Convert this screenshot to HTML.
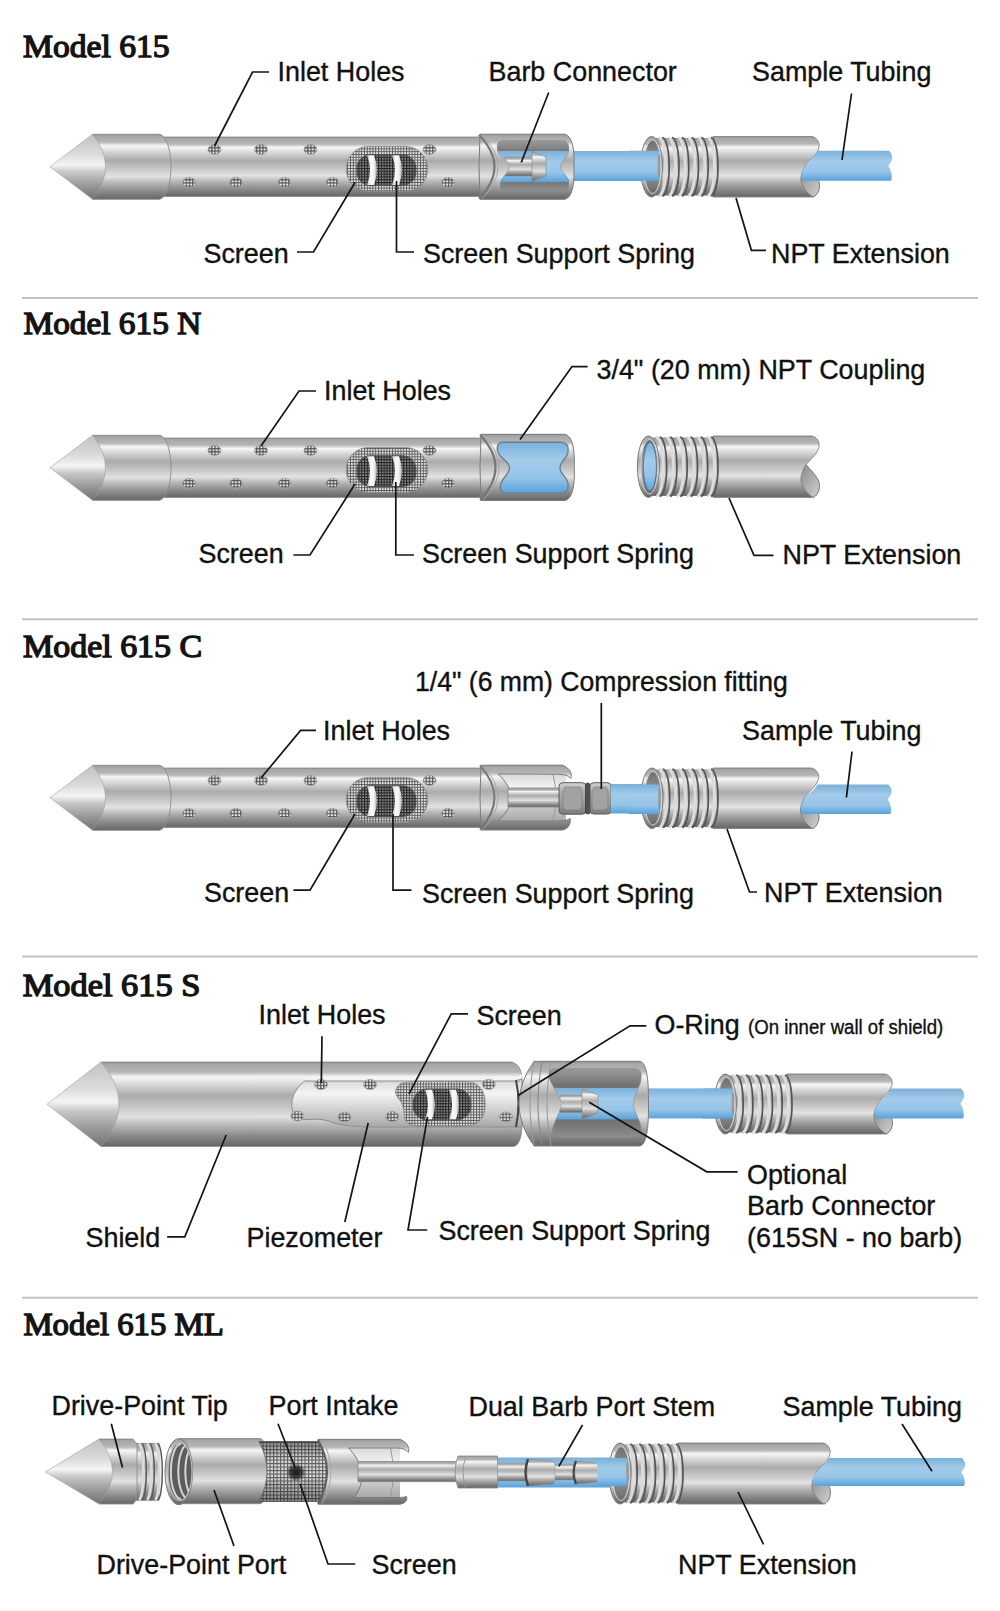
<!DOCTYPE html><html><head><meta charset="utf-8"><style>html,body{margin:0;padding:0;background:#fff;}svg{display:block;}</style></head><body>
<svg width="1000" height="1611" viewBox="0 0 1000 1611">

<defs>
 <linearGradient id="gm" x1="0" y1="0" x2="0" y2="1">
  <stop offset="0" stop-color="#8a8a8a"/>
  <stop offset="0.025" stop-color="#a6a6a6"/>
  <stop offset="0.12" stop-color="#b6b6b6"/>
  <stop offset="0.175" stop-color="#f6f6f6"/>
  <stop offset="0.28" stop-color="#d2d2d2"/>
  <stop offset="0.40" stop-color="#ababab"/>
  <stop offset="0.55" stop-color="#cacaca"/>
  <stop offset="0.65" stop-color="#e2e2e2"/>
  <stop offset="0.74" stop-color="#bababa"/>
  <stop offset="0.86" stop-color="#8f8f8f"/>
  <stop offset="0.97" stop-color="#6e6e6e"/>
  <stop offset="1" stop-color="#686868"/>
 </linearGradient>
 <linearGradient id="gcone" x1="0" y1="0" x2="0" y2="1">
  <stop offset="0" stop-color="#c2c2c2"/>
  <stop offset="0.3" stop-color="#dadada"/>
  <stop offset="0.47" stop-color="#f4f4f4"/>
  <stop offset="0.58" stop-color="#c8c8c8"/>
  <stop offset="0.8" stop-color="#969696"/>
  <stop offset="1" stop-color="#727272"/>
 </linearGradient>
 <linearGradient id="gblue" x1="0" y1="0" x2="0" y2="1">
  <stop offset="0" stop-color="#7ab0da"/>
  <stop offset="0.35" stop-color="#a3cbea"/>
  <stop offset="0.7" stop-color="#95c4e8"/>
  <stop offset="1" stop-color="#5aa2da"/>
 </linearGradient>
 <linearGradient id="gdark" x1="0" y1="0" x2="0" y2="1">
  <stop offset="0" stop-color="#6e6e6e"/>
  <stop offset="0.5" stop-color="#a0a0a0"/>
  <stop offset="1" stop-color="#6a6a6a"/>
 </linearGradient>
 <linearGradient id="gwin" x1="0" y1="0" x2="0" y2="1">
  <stop offset="0" stop-color="#9a9a9a"/>
  <stop offset="0.25" stop-color="#707070"/>
  <stop offset="0.5" stop-color="#a8a8a8"/>
  <stop offset="0.75" stop-color="#707070"/>
  <stop offset="1" stop-color="#8e8e8e"/>
 </linearGradient>
 <linearGradient id="gin" x1="0" y1="0" x2="0" y2="1">
  <stop offset="0" stop-color="#d8d8d8"/>
  <stop offset="0.3" stop-color="#f4f4f4"/>
  <stop offset="0.7" stop-color="#c9c9c9"/>
  <stop offset="1" stop-color="#a8a8a8"/>
 </linearGradient>
 <linearGradient id="gcres" x1="0" y1="0" x2="1" y2="1">
  <stop offset="0" stop-color="#8a8a8a"/>
  <stop offset="0.6" stop-color="#b4b4b4"/>
  <stop offset="1" stop-color="#d0d0d0"/>
 </linearGradient>
 <pattern id="meshml" width="3.5" height="3.5" patternUnits="userSpaceOnUse">
  <rect width="3.5" height="3.5" fill="#e8e8e8"/>
  <path d="M0 0.55H3.5M0.55 0V3.5" stroke="#626262" stroke-width="1.1"/>
 </pattern>
 <linearGradient id="gshade" x1="0" y1="0" x2="0" y2="1">
  <stop offset="0" stop-color="#000" stop-opacity="0.35"/>
  <stop offset="0.3" stop-color="#000" stop-opacity="0.05"/>
  <stop offset="0.6" stop-color="#000" stop-opacity="0.05"/>
  <stop offset="1" stop-color="#000" stop-opacity="0.4"/>
 </linearGradient>
 <linearGradient id="ghex" x1="0" y1="0" x2="0" y2="1">
  <stop offset="0" stop-color="#d4d4d4"/>
  <stop offset="0.3" stop-color="#acacac"/>
  <stop offset="0.7" stop-color="#969696"/>
  <stop offset="1" stop-color="#7a7a7a"/>
 </linearGradient>
 <linearGradient id="gband" x1="0" y1="0" x2="1" y2="0">
  <stop offset="0" stop-color="#bdbdbd"/>
  <stop offset="0.35" stop-color="#f8f8f8"/>
  <stop offset="0.7" stop-color="#f2f2f2"/>
  <stop offset="1" stop-color="#a8a8a8"/>
 </linearGradient>
 <radialGradient id="gspot">
  <stop offset="0" stop-color="#111" stop-opacity="0.95"/>
  <stop offset="0.6" stop-color="#222" stop-opacity="0.8"/>
  <stop offset="1" stop-color="#333" stop-opacity="0"/>
 </radialGradient>
 <pattern id="mesh" width="2.8" height="2.8" patternUnits="userSpaceOnUse">
  <rect width="2.8" height="2.8" fill="#e2e2e2"/>
  <path d="M0 0.45H2.8M0.45 0V2.8" stroke="#555" stroke-width="0.9"/>
 </pattern>
 <pattern id="meshd" width="2.8" height="2.8" patternUnits="userSpaceOnUse">
  <rect width="2.8" height="2.8" fill="#9a9a9a"/>
  <path d="M0 0.6H2.8M0.6 0V2.8" stroke="#262626" stroke-width="1.2"/>
 </pattern>
 <pattern id="meshh" width="3.2" height="3.2" patternUnits="userSpaceOnUse">
  <rect width="3.2" height="3.2" fill="#e6e6e6"/>
  <path d="M0 0.6H3.2M0.6 0V3.2" stroke="#585858" stroke-width="1.2"/>
 </pattern>
</defs>

<defs><clipPath id="w1"><path d="M502.5,141 L561.5,141 Q569.5,141 568.5,150 C568.5,157 560.5,159.25 560.5,166.25 C560.5,173.25 568.5,175.5 568.5,182.5 Q569.5,191.5 561.5,191.5 L506.5,191.5 Q499.5,191.5 500.5,183.5 C501.5,176.5 509.5,173.25 509.5,166.25 C509.5,159.25 497.5,156 497.5,149 Q496.5,141 502.5,141 Z"/></clipPath><clipPath id="w4"><path d="M554.6,1069 L634,1069 Q642,1069 641,1078 C641,1085 633,1096.3 633,1103.3 C633,1110.3 641,1121.6 641,1128.6 Q642,1137.6 634,1137.6 L558.6,1137.6 Q551.6,1137.6 552.6,1129.6 C553.6,1122.6 561.6,1110.3 561.6,1103.3 C561.6,1096.3 549.6,1084 549.6,1077 Q548.6,1069 554.6,1069 Z"/></clipPath><clipPath id="pm"><path d="M168,1471.7 A12,28.8 0 0 1 192,1471.7 A12,28.8 0 0 1 168,1471.7 Z"/></clipPath></defs>
<rect width="1000" height="1611" fill="#fff"/>
<text transform="translate(23,57) scale(1.019,0.94)" font-family='"Liberation Serif", serif' font-size="33" fill="#141414" stroke="#141414" stroke-width="1.4">Model 615</text>
<text transform="translate(277.5,81.3) scale(1,1.06)" font-family='"Liberation Sans", sans-serif' font-size="26.9" fill="#111" stroke="#111" stroke-width="0.35">Inlet Holes</text>
<text transform="translate(488.5,81.3) scale(1,1.06)" font-family='"Liberation Sans", sans-serif' font-size="26.9" fill="#111" stroke="#111" stroke-width="0.35">Barb Connector</text>
<text transform="translate(752,81.3) scale(1,1.06)" font-family='"Liberation Sans", sans-serif' font-size="26.9" fill="#111" stroke="#111" stroke-width="0.35">Sample Tubing</text>
<rect x="160" y="137" width="326" height="59.5" rx="0" fill="url(#gm)" stroke="#8a8a8a" stroke-width="0.8"/>
<path d="M92.5,134.3 L159,134.3 A12,32.5 0 0 1 159,199.3 L92.5,199.3 Z" fill="url(#gm)" stroke="#8c8c8c" stroke-width="0.9"/>
<path d="M50,166.8 L92.5,134.3 Q118.5,166.8 92.5,199.3 Z" fill="url(#gcone)" stroke="#a0a0a0" stroke-width="0.6"/>
<ellipse cx="214.5" cy="149.5" rx="6.5" ry="5" fill="url(#meshh)" stroke="#a0a0a0" stroke-width="0.8"/>
<ellipse cx="261" cy="149.5" rx="6.5" ry="5" fill="url(#meshh)" stroke="#a0a0a0" stroke-width="0.8"/>
<ellipse cx="310.5" cy="149.5" rx="6.5" ry="5" fill="url(#meshh)" stroke="#a0a0a0" stroke-width="0.8"/>
<ellipse cx="429.5" cy="149.5" rx="6.5" ry="5" fill="url(#meshh)" stroke="#a0a0a0" stroke-width="0.8"/>
<ellipse cx="189" cy="182.5" rx="6.5" ry="5" fill="url(#meshh)" stroke="#a0a0a0" stroke-width="0.8"/>
<ellipse cx="236" cy="182.5" rx="6.5" ry="5" fill="url(#meshh)" stroke="#a0a0a0" stroke-width="0.8"/>
<ellipse cx="284.5" cy="182.5" rx="6.5" ry="5" fill="url(#meshh)" stroke="#a0a0a0" stroke-width="0.8"/>
<ellipse cx="332.5" cy="182.5" rx="6.5" ry="5" fill="url(#meshh)" stroke="#a0a0a0" stroke-width="0.8"/>
<ellipse cx="448" cy="182.5" rx="6.5" ry="5" fill="url(#meshh)" stroke="#a0a0a0" stroke-width="0.8"/>
<rect x="346.2" y="146.4" width="81.60000000000002" height="45.0" rx="22.5" fill="url(#mesh)" stroke="#888" stroke-width="0.8"/>
<rect x="357" y="154.8" width="58.80000000000001" height="30.599999999999994" rx="13.769999999999998" fill="url(#meshd)" stroke="#505050" stroke-width="1.2"/>
<path d="M367,155.3 Q373,170.10000000000002 367,184.9 L374,184.9 Q380,170.10000000000002 374,155.3 Z" fill="url(#gband)"/>
<path d="M392,155.3 Q398,170.10000000000002 392,184.9 L399,184.9 Q405,170.10000000000002 399,155.3 Z" fill="url(#gband)"/>
<rect x="560" y="151" width="90" height="30" fill="url(#gblue)"/>
<path d="M480,134.2 L565,134.2 Q575,137.2 574,166.75 Q575,196.3 565,199.3 L480,199.3 Q478,166.75 480,134.2 Z" fill="url(#gm)" stroke="#7c7c7c" stroke-width="1"/>
<path d="M479,134.7 Q510,166.75 479,198.8" fill="none" stroke="#777" stroke-width="2"/>
<path d="M482,134.7 Q514,166.75 482,198.8" fill="none" stroke="#a8a8a8" stroke-width="1"/>
<path d="M502.5,141 L561.5,141 Q569.5,141 568.5,150 C568.5,157 560.5,159.25 560.5,166.25 C560.5,173.25 568.5,175.5 568.5,182.5 Q569.5,191.5 561.5,191.5 L506.5,191.5 Q499.5,191.5 500.5,183.5 C501.5,176.5 509.5,173.25 509.5,166.25 C509.5,159.25 497.5,156 497.5,149 Q496.5,141 502.5,141 Z" fill="url(#gwin)" stroke="#888" stroke-width="1"/>
<g clip-path="url(#w1)"><rect x="490" y="151" width="90" height="31" fill="url(#gblue)"/><rect x="505" y="157" width="28" height="19" fill="url(#gm)" stroke="#888" stroke-width="0.6"/><path d="M532,151.5 L546,157 L546,176 L532,181.5 Z" fill="url(#gm)" stroke="#888" stroke-width="0.6"/></g>
<path d="M713,136.5 L812,136.5 C817,137.50833333333333 820,142.55 819,146.98666666666668 C818,153.64166666666665 811,158.68333333333334 806,164.73333333333335 C813,172.8 820,178.85 819.4,186.51333333333332 C819,191.95833333333331 816,195.99166666666667 813,197 L713,197 Z" fill="url(#gm)" stroke="#858585" stroke-width="0.9"/>
<path d="M806,164.73333333333335 C813,172.8 820,178.85 819.4,186.51333333333332 C819,191.95833333333331 816,195.99166666666667 813,197 C805,191.95833333333331 800,183.89166666666665 801,176.83333333333331 C802,171.79166666666666 804,167.75833333333333 806,164.73333333333335 Z" fill="url(#gcres)" stroke="#7a7a7a" stroke-width="0.8"/>
<path d="M818,150.8 L889,150.8 Q895,156.8 890,163.8 Q887,165.8 890,168.8 Q893,176.8 891,180.8 L802,180.8 Q800,172.8 806,164.73333333333335 Q815,156.8 818,150.8 Z" fill="url(#gblue)"/>
<rect x="651.5" y="138.0" width="61.5" height="57.5" fill="url(#gm)"/>
<path d="M658.8,138.0 A7,28.75 0 0 1 658.8,195.5" fill="none" stroke="#dcdcdc" stroke-width="3"/>
<path d="M662.2,137.5 A7,29.25 0 0 1 662.2,196" fill="none" stroke="#545454" stroke-width="1.7"/>
<path d="M668.5,138.0 A7,28.75 0 0 1 668.5,195.5" fill="none" stroke="#dcdcdc" stroke-width="3"/>
<path d="M672.0,137.5 A7,29.25 0 0 1 672.0,196" fill="none" stroke="#545454" stroke-width="1.7"/>
<path d="M678.2,138.0 A7,28.75 0 0 1 678.2,195.5" fill="none" stroke="#dcdcdc" stroke-width="3"/>
<path d="M681.8,137.5 A7,29.25 0 0 1 681.8,196" fill="none" stroke="#545454" stroke-width="1.7"/>
<path d="M688.0,138.0 A7,28.75 0 0 1 688.0,195.5" fill="none" stroke="#dcdcdc" stroke-width="3"/>
<path d="M691.5,137.5 A7,29.25 0 0 1 691.5,196" fill="none" stroke="#545454" stroke-width="1.7"/>
<path d="M697.8,138.0 A7,28.75 0 0 1 697.8,195.5" fill="none" stroke="#dcdcdc" stroke-width="3"/>
<path d="M701.2,137.5 A7,29.25 0 0 1 701.2,196" fill="none" stroke="#545454" stroke-width="1.7"/>
<path d="M707.5,138.0 A7,28.75 0 0 1 707.5,195.5" fill="none" stroke="#dcdcdc" stroke-width="3"/>
<path d="M711.0,137.5 A7,29.25 0 0 1 711.0,196" fill="none" stroke="#545454" stroke-width="1.7"/>
<ellipse cx="651.5" cy="166.75" rx="11" ry="30.25" fill="url(#gm)" stroke="#7a7a7a" stroke-width="1"/>
<ellipse cx="652.5" cy="166.75" rx="8.5" ry="26.75" fill="url(#gdark)" stroke="#d4d4d4" stroke-width="1"/>
<path d="M628.5,150.8 L659.5,150.8 Q655.5,165.8 659.5,180.8 L628.5,180.8 Z" fill="url(#gblue)"/>
<text transform="translate(203.5,262.5) scale(1,1.06)" font-family='"Liberation Sans", sans-serif' font-size="26.9" fill="#111" stroke="#111" stroke-width="0.35">Screen</text>
<text transform="translate(423,263) scale(1,1.06)" font-family='"Liberation Sans", sans-serif' font-size="26.9" fill="#111" stroke="#111" stroke-width="0.35">Screen Support Spring</text>
<text transform="translate(771,263) scale(1,1.06)" font-family='"Liberation Sans", sans-serif' font-size="26.9" fill="#111" stroke="#111" stroke-width="0.35">NPT Extension</text>
<rect x="22" y="297" width="956" height="2" fill="#c2c2c2"/>
<text transform="translate(23.5,333.7) scale(1.01,0.94)" font-family='"Liberation Serif", serif' font-size="33" fill="#141414" stroke="#141414" stroke-width="1.4">Model 615 N</text>
<text transform="translate(324,400) scale(1,1.06)" font-family='"Liberation Sans", sans-serif' font-size="26.9" fill="#111" stroke="#111" stroke-width="0.35">Inlet Holes</text>
<text transform="translate(596.5,378.7) scale(1,1.06)" font-family='"Liberation Sans", sans-serif' font-size="26.9" fill="#111" stroke="#111" stroke-width="0.35">3/4" (20 mm) NPT Coupling</text>
<rect x="160" y="438" width="326" height="59.5" rx="0" fill="url(#gm)" stroke="#8a8a8a" stroke-width="0.8"/>
<path d="M92.5,435.3 L159,435.3 A12,32.5 0 0 1 159,500.3 L92.5,500.3 Z" fill="url(#gm)" stroke="#8c8c8c" stroke-width="0.9"/>
<path d="M50,467.8 L92.5,435.3 Q118.5,467.8 92.5,500.3 Z" fill="url(#gcone)" stroke="#a0a0a0" stroke-width="0.6"/>
<ellipse cx="214.5" cy="450.5" rx="6.5" ry="5" fill="url(#meshh)" stroke="#a0a0a0" stroke-width="0.8"/>
<ellipse cx="261" cy="450.5" rx="6.5" ry="5" fill="url(#meshh)" stroke="#a0a0a0" stroke-width="0.8"/>
<ellipse cx="310.5" cy="450.5" rx="6.5" ry="5" fill="url(#meshh)" stroke="#a0a0a0" stroke-width="0.8"/>
<ellipse cx="429.5" cy="450.5" rx="6.5" ry="5" fill="url(#meshh)" stroke="#a0a0a0" stroke-width="0.8"/>
<ellipse cx="189" cy="483.5" rx="6.5" ry="5" fill="url(#meshh)" stroke="#a0a0a0" stroke-width="0.8"/>
<ellipse cx="236" cy="483.5" rx="6.5" ry="5" fill="url(#meshh)" stroke="#a0a0a0" stroke-width="0.8"/>
<ellipse cx="284.5" cy="483.5" rx="6.5" ry="5" fill="url(#meshh)" stroke="#a0a0a0" stroke-width="0.8"/>
<ellipse cx="332.5" cy="483.5" rx="6.5" ry="5" fill="url(#meshh)" stroke="#a0a0a0" stroke-width="0.8"/>
<ellipse cx="448" cy="483.5" rx="6.5" ry="5" fill="url(#meshh)" stroke="#a0a0a0" stroke-width="0.8"/>
<rect x="346.2" y="447.4" width="81.60000000000002" height="45.0" rx="22.5" fill="url(#mesh)" stroke="#888" stroke-width="0.8"/>
<rect x="357" y="455.8" width="58.80000000000001" height="30.599999999999966" rx="13.769999999999985" fill="url(#meshd)" stroke="#505050" stroke-width="1.2"/>
<path d="M367,456.3 Q373,471.1 367,485.9 L374,485.9 Q380,471.1 374,456.3 Z" fill="url(#gband)"/>
<path d="M392,456.3 Q398,471.1 392,485.9 L399,485.9 Q405,471.1 399,456.3 Z" fill="url(#gband)"/>
<path d="M481,434.3 L565.3,434.3 Q575.3,437.3 574.3,467.4 Q575.3,497.5 565.3,500.5 L481,500.5 Q479,467.4 481,434.3 Z" fill="url(#gm)" stroke="#7c7c7c" stroke-width="1"/>
<path d="M480,434.8 Q511,467.4 480,500.0" fill="none" stroke="#777" stroke-width="2"/>
<path d="M483,434.8 Q515,467.4 483,500.0" fill="none" stroke="#a8a8a8" stroke-width="1"/>
<path d="M502.5,442.2 L561,442.2 Q569,442.2 568,451.2 C568,458.2 560,460.65 560,467.65 C560,474.65 568,477.1 568,484.1 Q569,493.1 561,493.1 L506.5,493.1 Q499.5,493.1 500.5,485.1 C501.5,478.1 509.5,474.65 509.5,467.65 C509.5,460.65 497.5,457.2 497.5,450.2 Q496.5,442.2 502.5,442.2 Z" fill="url(#gblue)" stroke="#6a7f90" stroke-width="1.4"/>
<path d="M713,436 L812,436 C817,437.0233333333333 820,442.14 819,446.6426666666667 C818,453.39666666666665 811,458.5133333333333 806,464.6533333333333 C813,472.84 820,478.97999999999996 819.4,486.75733333333335 C819,492.2833333333333 816,496.37666666666667 813,497.4 L713,497.4 Z" fill="url(#gm)" stroke="#858585" stroke-width="0.9"/>
<path d="M806,464.6533333333333 C813,472.84 820,478.97999999999996 819.4,486.75733333333335 C819,492.2833333333333 816,496.37666666666667 813,497.4 C805,492.2833333333333 800,484.09666666666664 801,476.93333333333334 C802,471.81666666666666 804,467.7233333333333 806,464.6533333333333 Z" fill="url(#gcres)" stroke="#7a7a7a" stroke-width="0.8"/>
<rect x="648.4" y="437.5" width="64.60000000000002" height="58.39999999999998" fill="url(#gm)"/>
<path d="M656.2,437.5 A7,29.19999999999999 0 0 1 656.2,495.9" fill="none" stroke="#dcdcdc" stroke-width="3"/>
<path d="M659.7,437 A7,29.69999999999999 0 0 1 659.7,496.4" fill="none" stroke="#545454" stroke-width="1.7"/>
<path d="M666.4,437.5 A7,29.19999999999999 0 0 1 666.4,495.9" fill="none" stroke="#dcdcdc" stroke-width="3"/>
<path d="M669.9,437 A7,29.69999999999999 0 0 1 669.9,496.4" fill="none" stroke="#545454" stroke-width="1.7"/>
<path d="M676.7,437.5 A7,29.19999999999999 0 0 1 676.7,495.9" fill="none" stroke="#dcdcdc" stroke-width="3"/>
<path d="M680.2,437 A7,29.69999999999999 0 0 1 680.2,496.4" fill="none" stroke="#545454" stroke-width="1.7"/>
<path d="M687.0,437.5 A7,29.19999999999999 0 0 1 687.0,495.9" fill="none" stroke="#dcdcdc" stroke-width="3"/>
<path d="M690.5,437 A7,29.69999999999999 0 0 1 690.5,496.4" fill="none" stroke="#545454" stroke-width="1.7"/>
<path d="M697.2,437.5 A7,29.19999999999999 0 0 1 697.2,495.9" fill="none" stroke="#dcdcdc" stroke-width="3"/>
<path d="M700.7,437 A7,29.69999999999999 0 0 1 700.7,496.4" fill="none" stroke="#545454" stroke-width="1.7"/>
<path d="M707.5,437.5 A7,29.19999999999999 0 0 1 707.5,495.9" fill="none" stroke="#dcdcdc" stroke-width="3"/>
<path d="M711.0,437 A7,29.69999999999999 0 0 1 711.0,496.4" fill="none" stroke="#545454" stroke-width="1.7"/>
<ellipse cx="648.4" cy="466.7" rx="11" ry="30.69999999999999" fill="url(#gm)" stroke="#7a7a7a" stroke-width="1"/>
<ellipse cx="649.4" cy="466.7" rx="8.5" ry="27.19999999999999" fill="url(#gdark)" stroke="#d4d4d4" stroke-width="1"/>
<ellipse cx="649.9" cy="466.7" rx="6.5" ry="24.19999999999999" fill="url(#gblue)" stroke="#4a6a88" stroke-width="0.8"/>
<text transform="translate(198.5,562.8) scale(1,1.06)" font-family='"Liberation Sans", sans-serif' font-size="26.9" fill="#111" stroke="#111" stroke-width="0.35">Screen</text>
<text transform="translate(422,563) scale(1,1.06)" font-family='"Liberation Sans", sans-serif' font-size="26.9" fill="#111" stroke="#111" stroke-width="0.35">Screen Support Spring</text>
<text transform="translate(782.5,563.5) scale(1,1.06)" font-family='"Liberation Sans", sans-serif' font-size="26.9" fill="#111" stroke="#111" stroke-width="0.35">NPT Extension</text>
<rect x="22" y="618.3" width="956" height="2" fill="#c2c2c2"/>
<text transform="translate(23,657) scale(1.029,0.94)" font-family='"Liberation Serif", serif' font-size="33" fill="#141414" stroke="#141414" stroke-width="1.4">Model 615 C</text>
<text transform="translate(415,691.3) scale(1,1.06)" font-family='"Liberation Sans", sans-serif' font-size="26.6" fill="#111" stroke="#111" stroke-width="0.35">1/4" (6 mm) Compression fitting</text>
<text transform="translate(323,739.8) scale(1,1.06)" font-family='"Liberation Sans", sans-serif' font-size="26.9" fill="#111" stroke="#111" stroke-width="0.35">Inlet Holes</text>
<text transform="translate(742,739.6) scale(1,1.06)" font-family='"Liberation Sans", sans-serif' font-size="26.9" fill="#111" stroke="#111" stroke-width="0.35">Sample Tubing</text>
<rect x="160" y="768" width="326" height="59.5" rx="0" fill="url(#gm)" stroke="#8a8a8a" stroke-width="0.8"/>
<path d="M92.5,765.3 L159,765.3 A12,32.5 0 0 1 159,830.3 L92.5,830.3 Z" fill="url(#gm)" stroke="#8c8c8c" stroke-width="0.9"/>
<path d="M50,797.8 L92.5,765.3 Q118.5,797.8 92.5,830.3 Z" fill="url(#gcone)" stroke="#a0a0a0" stroke-width="0.6"/>
<ellipse cx="214.5" cy="780.5" rx="6.5" ry="5" fill="url(#meshh)" stroke="#a0a0a0" stroke-width="0.8"/>
<ellipse cx="261" cy="780.5" rx="6.5" ry="5" fill="url(#meshh)" stroke="#a0a0a0" stroke-width="0.8"/>
<ellipse cx="310.5" cy="780.5" rx="6.5" ry="5" fill="url(#meshh)" stroke="#a0a0a0" stroke-width="0.8"/>
<ellipse cx="429.5" cy="780.5" rx="6.5" ry="5" fill="url(#meshh)" stroke="#a0a0a0" stroke-width="0.8"/>
<ellipse cx="189" cy="813.5" rx="6.5" ry="5" fill="url(#meshh)" stroke="#a0a0a0" stroke-width="0.8"/>
<ellipse cx="236" cy="813.5" rx="6.5" ry="5" fill="url(#meshh)" stroke="#a0a0a0" stroke-width="0.8"/>
<ellipse cx="284.5" cy="813.5" rx="6.5" ry="5" fill="url(#meshh)" stroke="#a0a0a0" stroke-width="0.8"/>
<ellipse cx="332.5" cy="813.5" rx="6.5" ry="5" fill="url(#meshh)" stroke="#a0a0a0" stroke-width="0.8"/>
<ellipse cx="448" cy="813.5" rx="6.5" ry="5" fill="url(#meshh)" stroke="#a0a0a0" stroke-width="0.8"/>
<rect x="346.2" y="777.4" width="81.60000000000002" height="45.0" rx="22.5" fill="url(#mesh)" stroke="#888" stroke-width="0.8"/>
<rect x="357" y="785.8" width="58.80000000000001" height="30.600000000000023" rx="13.77000000000001" fill="url(#meshd)" stroke="#505050" stroke-width="1.2"/>
<path d="M367,786.3 Q373,801.0999999999999 367,815.9 L374,815.9 Q380,801.0999999999999 374,786.3 Z" fill="url(#gband)"/>
<path d="M392,786.3 Q398,801.0999999999999 392,815.9 L399,815.9 Q405,801.0999999999999 399,786.3 Z" fill="url(#gband)"/>
<path d="M498,774 L566,774 L566,821 L498,821 Z" fill="url(#gin)"/>
<path d="M553,774 Q559,797 553,821" fill="none" stroke="#9a9a9a" stroke-width="1"/>
<path d="M481,765.2 L563,765.2 Q573,770.2 571,778.2 Q567,774.2 559,774.2 L498,774 Q524,797.6 498,821 L559,821 Q568,821 570,818 Q572,827 563,830 L481,830 Q479,797.6 481,765.2 Z" fill="url(#gm)" stroke="#7c7c7c" stroke-width="1"/>
<path d="M480,765.7 Q509,797.6 480,829.5" fill="none" stroke="#777" stroke-width="2"/>
<path d="M483,765.7 Q513,797.6 483,829.5" fill="none" stroke="#a8a8a8" stroke-width="1"/>
<rect x="508" y="788" width="58" height="19" rx="0" fill="url(#gm)" stroke="#888" stroke-width="0.8"/>
<path d="M559,786 Q559,782.7 563,782.7 L582,782.7 Q586,782.7 586,786 L586,811 Q586,814.2 582,814.2 L563,814.2 Q559,814.2 559,811 Z" fill="url(#ghex)" stroke="#5a5a5a" stroke-width="1"/>
<path d="M565,787 L580,787 L582,791 L582,806 L580,810 L565,810 L563,806 L563,791 Z" fill="#a2a2a2" stroke="#787878" stroke-width="0.6"/>
<rect x="585.5" y="783" width="4.5" height="31" rx="2" fill="#505050" stroke="#333" stroke-width="0.6"/>
<path d="M590,786 Q590,782.7 594,782.7 L607,782.7 Q611,782.7 611,786 L611,811 Q611,814 607,814 L594,814 Q590,814 590,811 Z" fill="url(#ghex)" stroke="#5a5a5a" stroke-width="1"/>
<path d="M594,787 L606,787 L608,791 L608,806 L606,810 L594,810 L592,806 L592,791 Z" fill="#a2a2a2" stroke="#787878" stroke-width="0.6"/>
<rect x="610.7" y="784" width="39.299999999999955" height="29.5" fill="url(#gblue)"/>
<path d="M713,768 L811.5,768 C816.5,769.0083333333333 819.5,774.05 818.5,778.4866666666667 C817.5,785.1416666666667 810.5,790.1833333333333 805.5,796.2333333333333 C812.5,804.3 819.5,810.35 818.9,818.0133333333333 C818.5,823.4583333333334 815.5,827.4916666666667 812.5,828.5 L713,828.5 Z" fill="url(#gm)" stroke="#858585" stroke-width="0.9"/>
<path d="M805.5,796.2333333333333 C812.5,804.3 819.5,810.35 818.9,818.0133333333333 C818.5,823.4583333333334 815.5,827.4916666666667 812.5,828.5 C804.5,823.4583333333334 799.5,815.3916666666667 800.5,808.3333333333334 C801.5,803.2916666666666 803.5,799.2583333333333 805.5,796.2333333333333 Z" fill="url(#gcres)" stroke="#7a7a7a" stroke-width="0.8"/>
<path d="M817.5,784.6 L888.4,784.6 Q894.4,790.6 889.4,797.3 Q886.4,799.3 889.4,802.3 Q892.4,810 890.4,814 L801.5,814 Q799.5,806 805.5,796.2333333333333 Q814.5,790.6 817.5,784.6 Z" fill="url(#gblue)"/>
<rect x="652" y="769.5" width="61" height="57.5" fill="url(#gm)"/>
<path d="M659.2,769.5 A7,28.75 0 0 1 659.2,827.0" fill="none" stroke="#dcdcdc" stroke-width="3"/>
<path d="M662.7,769 A7,29.25 0 0 1 662.7,827.5" fill="none" stroke="#545454" stroke-width="1.7"/>
<path d="M668.8,769.5 A7,28.75 0 0 1 668.8,827.0" fill="none" stroke="#dcdcdc" stroke-width="3"/>
<path d="M672.3,769 A7,29.25 0 0 1 672.3,827.5" fill="none" stroke="#545454" stroke-width="1.7"/>
<path d="M678.5,769.5 A7,28.75 0 0 1 678.5,827.0" fill="none" stroke="#dcdcdc" stroke-width="3"/>
<path d="M682.0,769 A7,29.25 0 0 1 682.0,827.5" fill="none" stroke="#545454" stroke-width="1.7"/>
<path d="M688.2,769.5 A7,28.75 0 0 1 688.2,827.0" fill="none" stroke="#dcdcdc" stroke-width="3"/>
<path d="M691.7,769 A7,29.25 0 0 1 691.7,827.5" fill="none" stroke="#545454" stroke-width="1.7"/>
<path d="M697.8,769.5 A7,28.75 0 0 1 697.8,827.0" fill="none" stroke="#dcdcdc" stroke-width="3"/>
<path d="M701.3,769 A7,29.25 0 0 1 701.3,827.5" fill="none" stroke="#545454" stroke-width="1.7"/>
<path d="M707.5,769.5 A7,28.75 0 0 1 707.5,827.0" fill="none" stroke="#dcdcdc" stroke-width="3"/>
<path d="M711.0,769 A7,29.25 0 0 1 711.0,827.5" fill="none" stroke="#545454" stroke-width="1.7"/>
<ellipse cx="652" cy="798.25" rx="11" ry="30.25" fill="url(#gm)" stroke="#7a7a7a" stroke-width="1"/>
<ellipse cx="653" cy="798.25" rx="8.5" ry="26.75" fill="url(#gdark)" stroke="#d4d4d4" stroke-width="1"/>
<path d="M629,784.6 L660,784.6 Q656,799.3 660,814 L629,814 Z" fill="url(#gblue)"/>
<text transform="translate(204,902.2) scale(1,1.06)" font-family='"Liberation Sans", sans-serif' font-size="26.9" fill="#111" stroke="#111" stroke-width="0.35">Screen</text>
<text transform="translate(422,902.5) scale(1,1.06)" font-family='"Liberation Sans", sans-serif' font-size="26.9" fill="#111" stroke="#111" stroke-width="0.35">Screen Support Spring</text>
<text transform="translate(764,901.8) scale(1,1.06)" font-family='"Liberation Sans", sans-serif' font-size="26.9" fill="#111" stroke="#111" stroke-width="0.35">NPT Extension</text>
<rect x="22" y="955.5" width="956" height="2" fill="#c2c2c2"/>
<text transform="translate(22.8,995.7) scale(1.041,0.94)" font-family='"Liberation Serif", serif' font-size="33" fill="#141414" stroke="#141414" stroke-width="1.4">Model 615 S</text>
<text transform="translate(258.5,1023.8) scale(1,1.06)" font-family='"Liberation Sans", sans-serif' font-size="26.9" fill="#111" stroke="#111" stroke-width="0.35">Inlet Holes</text>
<text transform="translate(476.5,1025) scale(1,1.06)" font-family='"Liberation Sans", sans-serif' font-size="26.9" fill="#111" stroke="#111" stroke-width="0.35">Screen</text>
<text transform="translate(654.5,1034.4) scale(1,1.06)" font-family='"Liberation Sans", sans-serif' font-size="26.9" fill="#111" stroke="#111" stroke-width="0.35">O-Ring</text>
<text transform="translate(748,1033.8) scale(1,1.06)" font-family='"Liberation Sans", sans-serif' font-size="18.6" fill="#111" stroke="#111" stroke-width="0.35">(On inner wall of shield)</text>
<rect x="600" y="1088.4" width="120" height="30.0" fill="url(#gblue)"/>
<path d="M101,1062 L512,1062 Q522,1065 522,1080 L522,1127.5 Q521,1144.5 514,1146.5 L101,1146.5 Z" fill="url(#gm)" stroke="#8a8a8a" stroke-width="0.8"/>
<path d="M47,1104.3 L101,1062 Q137,1104.3 101,1146.5 Z" fill="url(#gcone)" stroke="#a0a0a0" stroke-width="0.6"/>
<path d="M310,1079.6 L522,1079.6 L522,1127 L364,1127 Q345,1126 334,1123 Q322,1118 310,1119.5 Q296,1121 293,1113 Q289,1100 297,1089 Q303,1080 310,1079.6 Z" fill="url(#gin)" stroke="#8f8f8f" stroke-width="1"/>
<rect x="306" y="1080" width="214" height="2.2" fill="#9a9a9a" opacity="0.6"/>
<path d="M306,1079.2 L514,1079.2 Q520,1079.2 522,1075" fill="none" stroke="#f4f4f4" stroke-width="2"/>
<ellipse cx="321" cy="1084.5" rx="6.5" ry="5" fill="url(#meshh)" stroke="#a0a0a0" stroke-width="0.8"/>
<ellipse cx="370" cy="1084.5" rx="6.5" ry="5" fill="url(#meshh)" stroke="#a0a0a0" stroke-width="0.8"/>
<ellipse cx="488.8" cy="1084.4" rx="6.5" ry="5" fill="url(#meshh)" stroke="#a0a0a0" stroke-width="0.8"/>
<ellipse cx="297.4" cy="1116" rx="6.5" ry="5" fill="url(#meshh)" stroke="#a0a0a0" stroke-width="0.8"/>
<ellipse cx="344.5" cy="1117" rx="6.5" ry="5" fill="url(#meshh)" stroke="#a0a0a0" stroke-width="0.8"/>
<ellipse cx="392.2" cy="1116.6" rx="6.5" ry="5" fill="url(#meshh)" stroke="#a0a0a0" stroke-width="0.8"/>
<ellipse cx="506" cy="1117" rx="6.5" ry="5" fill="url(#meshh)" stroke="#a0a0a0" stroke-width="0.8"/>
<path d="M418,1081.4 L464,1081.4 Q485.2,1081.4 485.2,1103.9 Q485.2,1126.4 464,1126.4 L420,1126.4 Q404,1126.4 404,1114 Q404,1104 398,1098 Q392,1090 400,1084 Q405,1081.4 418,1081.4 Z" fill="url(#mesh)" stroke="#888" stroke-width="0.8"/>
<rect x="413.2" y="1089.2" width="57.6" height="30.6" rx="14" fill="url(#meshd)" stroke="#505050" stroke-width="1.2"/>
<path d="M425,1089.7 Q431,1104.5 425,1119.3 L432,1119.3 Q438,1104.5 432,1089.7 Z" fill="url(#gband)"/>
<path d="M449,1089.7 Q455,1104.5 449,1119.3 L456,1119.3 Q462,1104.5 456,1089.7 Z" fill="url(#gband)"/>
<path d="M516,1080 Q521,1103 516,1127" fill="none" stroke="#444" stroke-width="2"/>
<path d="M534,1061.3 L640,1061.3 Q649,1063 648.5,1103.7 Q649,1144 640,1146 L534,1146 Q504,1103.7 534,1061.3 Z" fill="url(#gm)" stroke="#7c7c7c" stroke-width="1"/>
<path d="M534,1062 Q526,1103.7 534,1145.5" fill="none" stroke="#9a9a9a" stroke-width="1.1"/>
<path d="M542,1062 Q534,1103.7 542,1145.5" fill="none" stroke="#8a8a8a" stroke-width="1.1"/>
<path d="M551,1062 Q543,1103.7 551,1145.5" fill="none" stroke="#9a9a9a" stroke-width="1.1"/>
<path d="M554.6,1069 L634,1069 Q642,1069 641,1078 C641,1085 633,1096.3 633,1103.3 C633,1110.3 641,1121.6 641,1128.6 Q642,1137.6 634,1137.6 L558.6,1137.6 Q551.6,1137.6 552.6,1129.6 C553.6,1122.6 561.6,1110.3 561.6,1103.3 C561.6,1096.3 549.6,1084 549.6,1077 Q548.6,1069 554.6,1069 Z" fill="url(#gwin)" stroke="#888" stroke-width="1"/>
<g clip-path="url(#w4)"><rect x="540" y="1088" width="110" height="31.4" fill="url(#gblue)"/><rect x="560" y="1095" width="23" height="17.4" fill="url(#gm)" stroke="#888" stroke-width="0.6"/><path d="M582,1089 L598,1095 L598,1113 L582,1119 Z" fill="url(#gm)" stroke="#888" stroke-width="0.6"/></g>
<path d="M787,1074 L885,1074 C890,1075.0 893,1080.0 892,1084.4 C891,1091.0 884,1096.0 879,1102.0 C886,1110.0 893,1116.0 892.4,1123.6 C892,1129.0 889,1133.0 886,1134 L787,1134 Z" fill="url(#gm)" stroke="#858585" stroke-width="0.9"/>
<path d="M879,1102.0 C886,1110.0 893,1116.0 892.4,1123.6 C892,1129.0 889,1133.0 886,1134 C878,1129.0 873,1121.0 874,1114.0 C875,1109.0 877,1105.0 879,1102.0 Z" fill="url(#gcres)" stroke="#7a7a7a" stroke-width="0.8"/>
<path d="M891,1088.4 L961,1088.4 Q967,1094.4 962,1101.4 Q959,1103.4 962,1106.4 Q965,1114.4 963,1118.4 L875,1118.4 Q873,1110.4 879,1102.0 Q888,1094.4 891,1088.4 Z" fill="url(#gblue)"/>
<rect x="725.4" y="1075.5" width="61.60000000000002" height="57" fill="url(#gm)"/>
<path d="M732.7,1075.5 A7,28.5 0 0 1 732.7,1132.5" fill="none" stroke="#dcdcdc" stroke-width="3"/>
<path d="M736.2,1075 A7,29.0 0 0 1 736.2,1133" fill="none" stroke="#545454" stroke-width="1.7"/>
<path d="M742.4,1075.5 A7,28.5 0 0 1 742.4,1132.5" fill="none" stroke="#dcdcdc" stroke-width="3"/>
<path d="M745.9,1075 A7,29.0 0 0 1 745.9,1133" fill="none" stroke="#545454" stroke-width="1.7"/>
<path d="M752.2,1075.5 A7,28.5 0 0 1 752.2,1132.5" fill="none" stroke="#dcdcdc" stroke-width="3"/>
<path d="M755.7,1075 A7,29.0 0 0 1 755.7,1133" fill="none" stroke="#545454" stroke-width="1.7"/>
<path d="M762.0,1075.5 A7,28.5 0 0 1 762.0,1132.5" fill="none" stroke="#dcdcdc" stroke-width="3"/>
<path d="M765.5,1075 A7,29.0 0 0 1 765.5,1133" fill="none" stroke="#545454" stroke-width="1.7"/>
<path d="M771.7,1075.5 A7,28.5 0 0 1 771.7,1132.5" fill="none" stroke="#dcdcdc" stroke-width="3"/>
<path d="M775.2,1075 A7,29.0 0 0 1 775.2,1133" fill="none" stroke="#545454" stroke-width="1.7"/>
<path d="M781.5,1075.5 A7,28.5 0 0 1 781.5,1132.5" fill="none" stroke="#dcdcdc" stroke-width="3"/>
<path d="M785.0,1075 A7,29.0 0 0 1 785.0,1133" fill="none" stroke="#545454" stroke-width="1.7"/>
<ellipse cx="725.4" cy="1104.0" rx="11" ry="30.0" fill="url(#gm)" stroke="#7a7a7a" stroke-width="1"/>
<ellipse cx="726.4" cy="1104.0" rx="8.5" ry="26.5" fill="url(#gdark)" stroke="#d4d4d4" stroke-width="1"/>
<path d="M702.4,1088.4 L733.4,1088.4 Q729.4,1103.4 733.4,1118.4 L702.4,1118.4 Z" fill="url(#gblue)"/>
<text transform="translate(85.5,1247.2) scale(1,1.06)" font-family='"Liberation Sans", sans-serif' font-size="26.9" fill="#111" stroke="#111" stroke-width="0.35">Shield</text>
<text transform="translate(246.5,1247.2) scale(1,1.06)" font-family='"Liberation Sans", sans-serif' font-size="26.9" fill="#111" stroke="#111" stroke-width="0.35">Piezometer</text>
<text transform="translate(438.5,1239.6) scale(1,1.06)" font-family='"Liberation Sans", sans-serif' font-size="26.9" fill="#111" stroke="#111" stroke-width="0.35">Screen Support Spring</text>
<text transform="translate(747,1183.6) scale(1,1.06)" font-family='"Liberation Sans", sans-serif' font-size="26.9" fill="#111" stroke="#111" stroke-width="0.35">Optional</text>
<text transform="translate(747,1215.2) scale(1,1.06)" font-family='"Liberation Sans", sans-serif' font-size="26.9" fill="#111" stroke="#111" stroke-width="0.35">Barb Connector</text>
<text transform="translate(747,1246.8) scale(1,1.06)" font-family='"Liberation Sans", sans-serif' font-size="26.9" fill="#111" stroke="#111" stroke-width="0.35">(615SN - no barb)</text>
<rect x="22" y="1296.7" width="956" height="2" fill="#c2c2c2"/>
<text transform="translate(23.5,1334.5) scale(0.993,0.94)" font-family='"Liberation Serif", serif' font-size="33" fill="#141414" stroke="#141414" stroke-width="1.4">Model 615 ML</text>
<text transform="translate(51.5,1414.5) scale(1,1.06)" font-family='"Liberation Sans", sans-serif' font-size="26.9" fill="#111" stroke="#111" stroke-width="0.35">Drive-Point Tip</text>
<text transform="translate(268.5,1414.5) scale(1,1.06)" font-family='"Liberation Sans", sans-serif' font-size="26.9" fill="#111" stroke="#111" stroke-width="0.35">Port Intake</text>
<text transform="translate(468.5,1416) scale(1,1.06)" font-family='"Liberation Sans", sans-serif' font-size="26.9" fill="#111" stroke="#111" stroke-width="0.35">Dual Barb Port Stem</text>
<text transform="translate(782.5,1416) scale(1,1.06)" font-family='"Liberation Sans", sans-serif' font-size="26.9" fill="#111" stroke="#111" stroke-width="0.35">Sample Tubing</text>
<rect x="136" y="1443.2" width="23" height="57.2" fill="url(#gm)" stroke="#888" stroke-width="0.6"/>
<path d="M139,1443.5 A5,28.5 0 0 1 139,1500" fill="none" stroke="#dadada" stroke-width="2.6"/>
<path d="M142,1443.5 A5,28.5 0 0 1 142,1500" fill="none" stroke="#5a5a5a" stroke-width="1.5"/>
<path d="M147,1443.5 A5,28.5 0 0 1 147,1500" fill="none" stroke="#dadada" stroke-width="2.6"/>
<path d="M150,1443.5 A5,28.5 0 0 1 150,1500" fill="none" stroke="#5a5a5a" stroke-width="1.5"/>
<path d="M155,1443.5 A5,28.5 0 0 1 155,1500" fill="none" stroke="#dadada" stroke-width="2.6"/>
<path d="M158,1443.5 A5,28.5 0 0 1 158,1500" fill="none" stroke="#5a5a5a" stroke-width="1.5"/>
<path d="M99,1439 L133,1439 L137,1444 L137,1499 L133,1504 L99,1504 Z" fill="url(#gm)" stroke="#888" stroke-width="0.8"/>
<path d="M45.5,1472 L99,1439 Q126,1471.5 99,1504 Z" fill="url(#gcone)" stroke="#a0a0a0" stroke-width="0.6"/>
<path d="M179,1438.5 L260,1438.5 A9,32.6 0 0 1 260,1503.7 L179,1503.7 Z" fill="url(#gm)" stroke="#888" stroke-width="0.8"/>
<ellipse cx="178.8" cy="1471.7" rx="13.8" ry="33" fill="url(#gm)" stroke="#7a7a7a" stroke-width="1"/>
<ellipse cx="180" cy="1471.7" rx="12" ry="28.8" fill="#5c5c5c" stroke="#b8b8b8" stroke-width="1.2"/>
<g clip-path="url(#pm)">
<path d="M181,1444 A10,27 0 0 0 181,1499" fill="none" stroke="#d4d4d4" stroke-width="2"/>
<path d="M188.5,1444 A10,27 0 0 0 188.5,1499" fill="none" stroke="#d4d4d4" stroke-width="2"/>
<path d="M195.5,1444 A10,27 0 0 0 195.5,1499" fill="none" stroke="#d4d4d4" stroke-width="2"/>
</g>
<path d="M259,1441.5 L318,1441.5 Q336,1471.5 318,1501.5 L259,1501.5 Q275,1471.5 259,1441.5 Z" fill="url(#meshml)" stroke="#666" stroke-width="0.8"/>
<path d="M259,1441.5 L318,1441.5 Q336,1471.5 318,1501.5 L259,1501.5 Q275,1471.5 259,1441.5 Z" fill="url(#gshade)"/>
<ellipse cx="296" cy="1472.3" rx="10" ry="9" fill="url(#gspot)"/>
<path d="M348.5,1448 L400,1448 L400,1497.5 L354.5,1497.5 Z" fill="url(#gin)"/>
<path d="M390.5,1448 Q396,1472 390.5,1497.5" fill="none" stroke="#9a9a9a" stroke-width="1"/>
<path d="M318,1439.3 L400.5,1439.3 Q410.5,1444.3 408.5,1452.3 Q404.5,1448 396.5,1448 L348.5,1448 Q372,1472 354.5,1497.5 L396.5,1497.5 Q405.5,1497.5 406.5,1496.2 Q408.5,1502.2 400.5,1504.2 L318,1504.2 Q336,1471.5 318,1439.3 Z" fill="url(#gm)" stroke="#7c7c7c" stroke-width="1"/>
<path d="M318,1439.8 Q336,1471.5 318,1503.7" fill="none" stroke="#5e5e5e" stroke-width="2"/>
<path d="M322,1439.8 Q340,1471.5 322,1503.7" fill="none" stroke="#a8a8a8" stroke-width="1"/>
<rect x="358" y="1461.5" width="102" height="20.200000000000045" rx="0" fill="url(#gm)" stroke="#888" stroke-width="0.8"/>
<rect x="490" y="1457.5" width="125" height="30.0" fill="url(#gblue)"/>
<path d="M458,1456 L497.5,1456 L497.5,1488 L458,1488 Q452,1472 458,1456 Z" fill="url(#gm)" stroke="#888" stroke-width="0.8"/>
<path d="M466,1456.5 Q460,1472 466,1487.5" fill="none" stroke="#999" stroke-width="1"/>
<rect x="497.5" y="1463" width="32.5" height="18" rx="0" fill="url(#gm)" stroke="#999" stroke-width="0.6"/>
<path d="M527,1459 L553,1461 L556,1466 L556,1479 L553,1484 L527,1486 Z" fill="url(#gm)" stroke="#888" stroke-width="0.6"/>
<path d="M528,1459 Q523,1472.5 528,1486" fill="none" stroke="#444" stroke-width="2.4"/>
<rect x="555" y="1464" width="22" height="16" rx="0" fill="url(#gm)" stroke="#999" stroke-width="0.6"/>
<path d="M575,1461 L598,1463 L600,1466 L600,1479 L598,1482 L575,1484 Z" fill="url(#gm)" stroke="#888" stroke-width="0.6"/>
<path d="M576,1461 Q571,1472.5 576,1484" fill="none" stroke="#444" stroke-width="2.2"/>
<path d="M678,1443 L823,1443 C828,1444.0166666666667 831,1449.1 830,1453.5733333333333 C829,1460.2833333333333 822,1465.3666666666666 817,1471.4666666666667 C824,1479.6 831,1485.7 830.4,1493.4266666666667 C830,1498.9166666666667 827,1502.9833333333333 824,1504 L678,1504 Z" fill="url(#gm)" stroke="#858585" stroke-width="0.9"/>
<path d="M817,1471.4666666666667 C824,1479.6 831,1485.7 830.4,1493.4266666666667 C830,1498.9166666666667 827,1502.9833333333333 824,1504 C816,1498.9166666666667 811,1490.7833333333333 812,1483.6666666666667 C813,1478.5833333333333 815,1474.5166666666667 817,1471.4666666666667 Z" fill="url(#gcres)" stroke="#7a7a7a" stroke-width="0.8"/>
<path d="M829,1458 L962,1458 Q968,1464 963,1470.0 Q960,1472.0 963,1475.0 Q966,1482 964,1486 L813,1486 Q811,1478 817,1471.4666666666667 Q826,1464 829,1458 Z" fill="url(#gblue)"/>
<rect x="620" y="1444.5" width="58" height="58" fill="url(#gm)"/>
<path d="M626.7,1444.5 A7,29.0 0 0 1 626.7,1502.5" fill="none" stroke="#dcdcdc" stroke-width="3"/>
<path d="M630.2,1444 A7,29.5 0 0 1 630.2,1503" fill="none" stroke="#545454" stroke-width="1.7"/>
<path d="M635.8,1444.5 A7,29.0 0 0 1 635.8,1502.5" fill="none" stroke="#dcdcdc" stroke-width="3"/>
<path d="M639.3,1444 A7,29.5 0 0 1 639.3,1503" fill="none" stroke="#545454" stroke-width="1.7"/>
<path d="M645.0,1444.5 A7,29.0 0 0 1 645.0,1502.5" fill="none" stroke="#dcdcdc" stroke-width="3"/>
<path d="M648.5,1444 A7,29.5 0 0 1 648.5,1503" fill="none" stroke="#545454" stroke-width="1.7"/>
<path d="M654.2,1444.5 A7,29.0 0 0 1 654.2,1502.5" fill="none" stroke="#dcdcdc" stroke-width="3"/>
<path d="M657.7,1444 A7,29.5 0 0 1 657.7,1503" fill="none" stroke="#545454" stroke-width="1.7"/>
<path d="M663.3,1444.5 A7,29.0 0 0 1 663.3,1502.5" fill="none" stroke="#dcdcdc" stroke-width="3"/>
<path d="M666.8,1444 A7,29.5 0 0 1 666.8,1503" fill="none" stroke="#545454" stroke-width="1.7"/>
<path d="M672.5,1444.5 A7,29.0 0 0 1 672.5,1502.5" fill="none" stroke="#dcdcdc" stroke-width="3"/>
<path d="M676.0,1444 A7,29.5 0 0 1 676.0,1503" fill="none" stroke="#545454" stroke-width="1.7"/>
<ellipse cx="620" cy="1473.5" rx="11" ry="30.5" fill="url(#gm)" stroke="#7a7a7a" stroke-width="1"/>
<ellipse cx="621" cy="1473.5" rx="8.5" ry="27.0" fill="url(#gdark)" stroke="#d4d4d4" stroke-width="1"/>
<path d="M597,1458 L628,1458 Q624,1472.0 628,1486 L597,1486 Z" fill="url(#gblue)"/>
<text transform="translate(96.5,1574) scale(1,1.06)" font-family='"Liberation Sans", sans-serif' font-size="26.9" fill="#111" stroke="#111" stroke-width="0.35">Drive-Point Port</text>
<text transform="translate(371.5,1574) scale(1,1.06)" font-family='"Liberation Sans", sans-serif' font-size="26.9" fill="#111" stroke="#111" stroke-width="0.35">Screen</text>
<text transform="translate(678,1574.4) scale(1,1.06)" font-family='"Liberation Sans", sans-serif' font-size="26.9" fill="#111" stroke="#111" stroke-width="0.35">NPT Extension</text>
<path d="M269.0,72.0 L252.5,72.0 L214.5,146.0" fill="none" stroke="#141414" stroke-width="1.7" stroke-linejoin="miter"/>
<path d="M548.7,92.5 L521.2,162.5" fill="none" stroke="#141414" stroke-width="1.7" stroke-linejoin="miter"/>
<path d="M851.5,93.5 L842.0,160.0" fill="none" stroke="#141414" stroke-width="1.7" stroke-linejoin="miter"/>
<path d="M297.0,252.0 L313.5,252.0 L355.0,182.5" fill="none" stroke="#141414" stroke-width="1.7" stroke-linejoin="miter"/>
<path d="M396.5,181.0 L396.5,252.0 L414.0,252.0" fill="none" stroke="#141414" stroke-width="1.7" stroke-linejoin="miter"/>
<path d="M736.0,198.0 L751.4,250.3 L766.0,250.3" fill="none" stroke="#141414" stroke-width="1.7" stroke-linejoin="miter"/>
<path d="M316.0,391.0 L299.0,391.0 L261.0,446.0" fill="none" stroke="#141414" stroke-width="1.7" stroke-linejoin="miter"/>
<path d="M587.7,366.6 L572.0,366.6 L520.0,439.5" fill="none" stroke="#141414" stroke-width="1.7" stroke-linejoin="miter"/>
<path d="M293.4,555.0 L310.0,555.0 L355.0,484.0" fill="none" stroke="#141414" stroke-width="1.7" stroke-linejoin="miter"/>
<path d="M395.8,482.0 L395.8,555.0 L414.0,555.0" fill="none" stroke="#141414" stroke-width="1.7" stroke-linejoin="miter"/>
<path d="M729.0,498.0 L754.0,555.4 L773.5,555.4" fill="none" stroke="#141414" stroke-width="1.7" stroke-linejoin="miter"/>
<path d="M601.3,703.0 L601.3,789.0" fill="none" stroke="#141414" stroke-width="1.7" stroke-linejoin="miter"/>
<path d="M316.0,730.4 L300.6,730.4 L261.0,778.0" fill="none" stroke="#141414" stroke-width="1.7" stroke-linejoin="miter"/>
<path d="M852.0,751.6 L846.4,797.5" fill="none" stroke="#141414" stroke-width="1.7" stroke-linejoin="miter"/>
<path d="M293.4,890.2 L310.0,890.2 L355.0,814.0" fill="none" stroke="#141414" stroke-width="1.7" stroke-linejoin="miter"/>
<path d="M393.0,814.0 L393.0,890.2 L411.4,890.2" fill="none" stroke="#141414" stroke-width="1.7" stroke-linejoin="miter"/>
<path d="M727.0,829.0 L749.5,892.0 L757.0,892.0" fill="none" stroke="#141414" stroke-width="1.7" stroke-linejoin="miter"/>
<path d="M322.0,1036.3 L321.3,1083.0" fill="none" stroke="#141414" stroke-width="1.7" stroke-linejoin="miter"/>
<path d="M468.0,1013.8 L451.3,1013.8 L409.0,1093.8" fill="none" stroke="#141414" stroke-width="1.7" stroke-linejoin="miter"/>
<path d="M646.3,1025.8 L630.0,1025.8 L518.0,1095.5" fill="none" stroke="#141414" stroke-width="1.7" stroke-linejoin="miter"/>
<path d="M167.2,1236.8 L184.8,1236.8 L226.2,1135.0" fill="none" stroke="#141414" stroke-width="1.7" stroke-linejoin="miter"/>
<path d="M344.8,1222.0 L368.2,1123.0" fill="none" stroke="#141414" stroke-width="1.7" stroke-linejoin="miter"/>
<path d="M427.2,1230.0 L408.0,1230.0 L427.5,1116.8" fill="none" stroke="#141414" stroke-width="1.7" stroke-linejoin="miter"/>
<path d="M737.6,1171.8 L706.8,1171.8 L589.2,1102.2" fill="none" stroke="#141414" stroke-width="1.7" stroke-linejoin="miter"/>
<path d="M111.3,1423.8 L122.5,1467.5" fill="none" stroke="#141414" stroke-width="1.7" stroke-linejoin="miter"/>
<path d="M278.0,1423.8 L295.0,1467.5" fill="none" stroke="#141414" stroke-width="1.7" stroke-linejoin="miter"/>
<path d="M582.5,1425.0 L558.8,1466.3" fill="none" stroke="#141414" stroke-width="1.7" stroke-linejoin="miter"/>
<path d="M902.0,1424.0 L932.0,1471.2" fill="none" stroke="#141414" stroke-width="1.7" stroke-linejoin="miter"/>
<path d="M234.0,1546.0 L214.0,1490.0" fill="none" stroke="#141414" stroke-width="1.7" stroke-linejoin="miter"/>
<path d="M355.2,1564.0 L328.0,1564.0 L300.0,1483.8" fill="none" stroke="#141414" stroke-width="1.7" stroke-linejoin="miter"/>
<path d="M763.5,1544.4 L738.0,1492.0" fill="none" stroke="#141414" stroke-width="1.7" stroke-linejoin="miter"/>
</svg></body></html>
